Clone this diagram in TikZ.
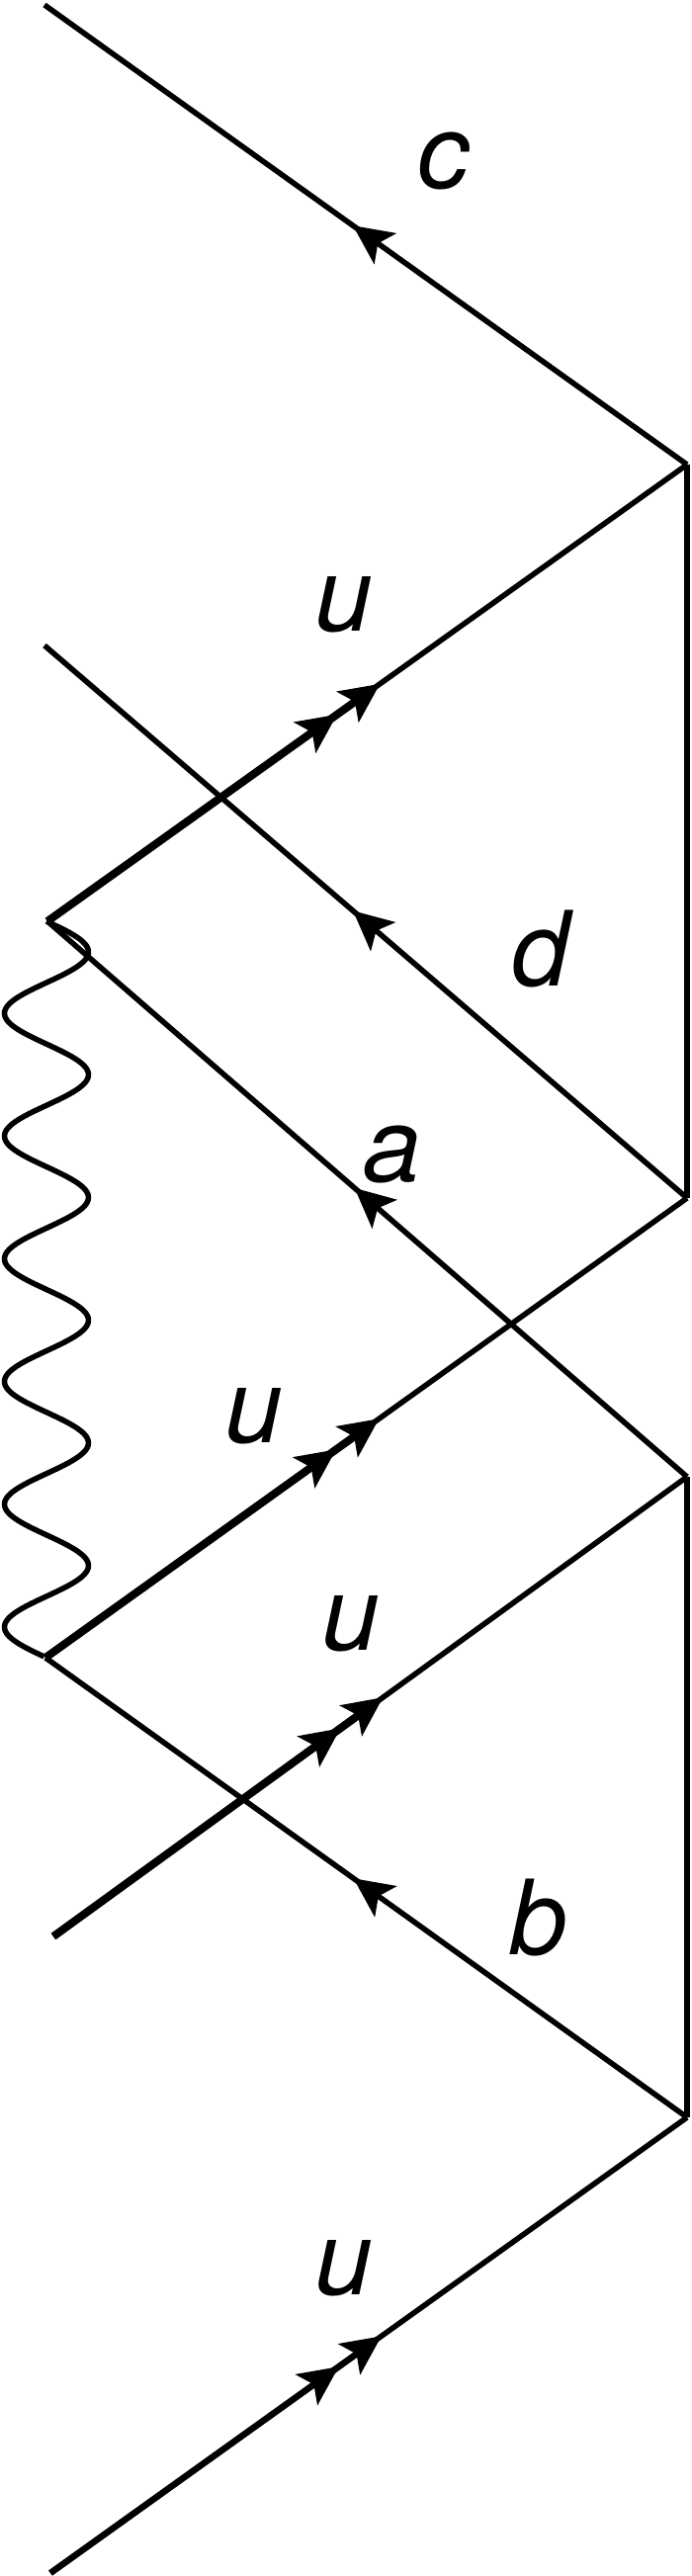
\documentclass[tikz,border=0pt]{standalone}
\usepackage{fontspec}
\setmainfont{TeX Gyre Heros}
\usetikzlibrary{arrows.meta,decorations.markings,calc}
\tikzset{
  myhead/.tip={Stealth[length=40pt,width=38pt,inset=9pt]},
  ln/.style={line width=5.5pt},
  thk/.style={line width=8pt},
  lbl/.style={inner sep=0pt, font=\fontsize{105}{120}\selectfont\itshape},
  onearrow/.style={postaction={decorate},
    decoration={markings, mark=at position 0.52 with {\arrow{myhead}}}},
  twoarrow/.style={postaction={decorate},
    decoration={markings,
      mark=at position 0.453 with {\arrow{myhead}},
      mark=at position 0.52 with {\arrow{myhead}}}}
}
\begin{document}
\begin{tikzpicture}[x=1pt,y=-1pt]
\useasboundingbox (0,0) rectangle (700,2606);
% vertices and free ends
\coordinate (A)  at (695,470);
\coordinate (B)  at (695,1212);
\coordinate (C)  at (695,1494);
\coordinate (D)  at (695,2142);
\coordinate (L1) at (48,932);
\coordinate (L2) at (46,1677);
\coordinate (cE) at (45,5);
\coordinate (dE) at (45,653);
\coordinate (uS) at (54,1959);
\coordinate (uB) at (51,2603);
% vertical lines
\draw[ln] (A) -- (B);
\draw[ln] (C) -- (D);
% lines with single arrows (pointing up-left)
\draw[ln,onearrow] (A) -- (cE);
\draw[ln,onearrow] (B) -- (dE);
\draw[ln,onearrow] (C) -- (L1);
\draw[ln,onearrow] (D) -- (L2);
% u lines with double arrows
\draw[ln,twoarrow] (L1) -- (A);
\draw[thk] (L1) -- ($(L1)!0.5!(A)$);
\draw[ln,twoarrow] (L2) -- (B);
\draw[thk] (L2) -- ($(L2)!0.5!(B)$);
\draw[ln,twoarrow] (uS) -- (C);
\draw[thk] (uS) -- ($(uS)!0.5!(C)$);
\draw[ln,twoarrow] (uB) -- (D);
\draw[line width=6.5pt] (uB) -- ($(uB)!0.5!(D)$);
% wavy line
\draw[ln] plot[domain=0:1, samples=400, smooth] ({47+42.5*sin(2160*\x)}, {932+745*\x});
% labels
\node[lbl] (lc)  at (449,163)  {c};
\node[lbl] (lu1) at (348,612)  {u};
\node[lbl] (ld)  at (547,960)  {d};
\node[lbl] (la)  at (397,1168) {a};
\node[lbl] (lu2) at (257,1433) {u};
\node[lbl] (lu3) at (355,1643) {u};
\node[lbl] (lb)  at (545,1940) {b};
\node[lbl] (lu4) at (348,2295) {u};
\end{tikzpicture}
\end{document}
